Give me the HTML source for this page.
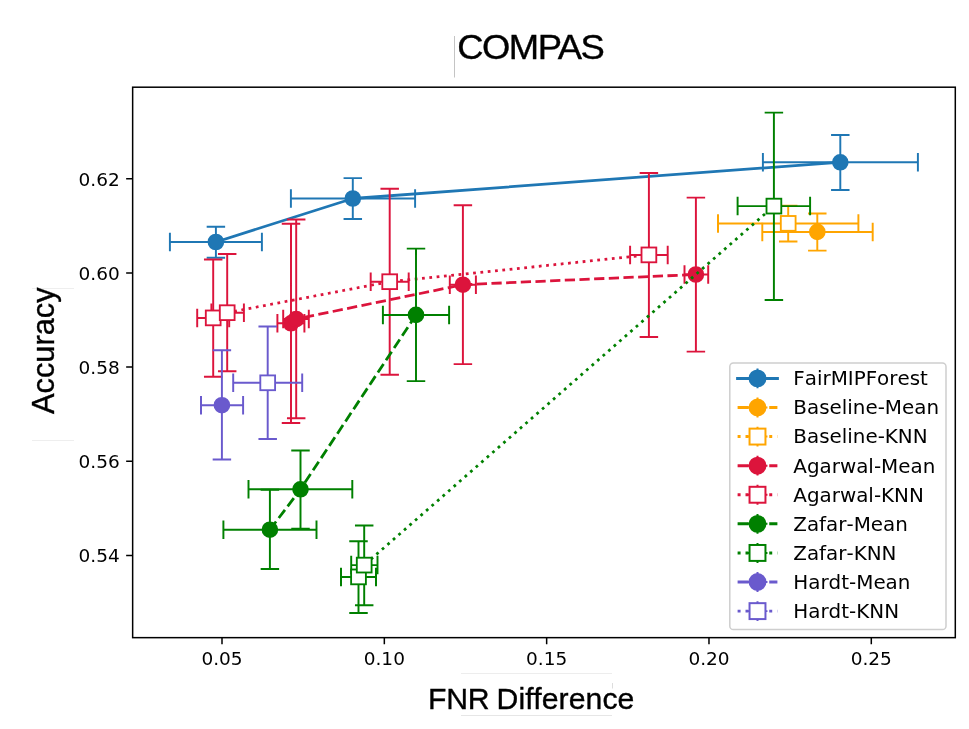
<!DOCTYPE html>
<html lang="en">
<head>
<meta charset="utf-8">
<title>COMPAS</title>
<style>
html,body{margin:0;padding:0;background:#fff;}
body{width:969px;height:729px;overflow:hidden;}
svg{display:block;}
</style>
</head>
<body>
<svg width="969" height="729" viewBox="0 0 969 729">
<rect width="969" height="729" fill="#fff"/>
<g stroke-width="1">
<line x1="454.5" y1="36" x2="454.5" y2="77.5" stroke="#c4c4c4"/>
<line x1="461" y1="673.5" x2="612" y2="673.5" stroke="#ededed"/>
<line x1="461" y1="715.5" x2="612" y2="715.5" stroke="#e6e6e6"/>
<line x1="32" y1="288.5" x2="74" y2="288.5" stroke="#eeeeee"/>
<line x1="612.5" y1="683" x2="612.5" y2="688.5" stroke="#dddddd"/>
<line x1="32" y1="440.5" x2="74" y2="440.5" stroke="#eeeeee"/>
</g>
<defs><clipPath id="ax"><rect x="132.65" y="87.2" width="822.65" height="550.45"/></clipPath></defs>
<g clip-path="url(#ax)" fill="none">
<g stroke="#1f77b4">
<path d="M169.9 242H261.9M215.9 226.8V257.7M290.9 198.5H415.1M352.8 178.1V219M762.9 162.3H917.9M840.3 134.9V190" stroke-width="1.95"/>
<path d="M169.9 232.76V251.24M261.9 232.76V251.24M206.67 226.8H225.13M206.67 257.7H225.13M290.9 189.26V207.74M415.1 189.26V207.74M343.56 178.1H362.04M343.56 219H362.04M762.9 153.06V171.54M917.9 153.06V171.54M831.06 134.9H849.53M831.06 190H849.53" stroke-width="1.95"/>
<path d="M215.9 242L352.8 198.5L840.3 162.3" stroke-width="2.77" stroke-linejoin="round" stroke-linecap="square"/>
<circle cx="215.9" cy="242" r="7.39" fill="#1f77b4" stroke-width="1.85"/>
<circle cx="352.8" cy="198.5" r="7.39" fill="#1f77b4" stroke-width="1.85"/>
<circle cx="840.3" cy="162.3" r="7.39" fill="#1f77b4" stroke-width="1.85"/>
</g>
<g stroke="#ffa500">
<path d="M762.3 231.9H872.7M817.3 213.5V250.6" stroke-width="1.95"/>
<path d="M762.3 222.67V241.13M872.7 222.67V241.13M808.06 213.5H826.53M808.06 250.6H826.53" stroke-width="1.95"/>
<circle cx="817.3" cy="231.9" r="7.39" fill="#ffa500" stroke-width="1.85"/>
</g>
<g stroke="#ffa500">
<path d="M718 223.4H858.4M788.2 205.6V241.5" stroke-width="1.95"/>
<path d="M718 214.17V232.63M858.4 214.17V232.63M778.97 205.6H797.44M778.97 241.5H797.44" stroke-width="1.95"/>
<rect x="780.81" y="216.01" width="14.78" height="14.78" fill="#fff" stroke-width="1.85"/>
</g>
<g stroke="#dc143c">
<path d="M277.4 323.3H304.4M291 223.7V422.9M283.2 319H308.8M296.2 219.5V418.3M449.8 284.7H475.9M462.9 205.3V364.1M684.5 274.5H708.2M695.9 197.6V351.6" stroke-width="1.95"/>
<path d="M277.4 314.06V332.54M304.4 314.06V332.54M281.76 223.7H300.24M281.76 422.9H300.24M283.2 309.76V328.24M308.8 309.76V328.24M286.96 219.5H305.44M286.96 418.3H305.44M449.8 275.46V293.94M475.9 275.46V293.94M453.66 205.3H472.13M453.66 364.1H472.13M684.5 265.26V283.74M708.2 265.26V283.74M686.66 197.6H705.13M686.66 351.6H705.13" stroke-width="1.95"/>
<path d="M291 323.3L296.2 319L462.9 284.7L695.9 274.5" stroke-width="2.77" stroke-linejoin="round" stroke-dasharray="10.25 4.43"/>
<circle cx="291" cy="323.3" r="7.39" fill="#dc143c" stroke-width="1.85"/>
<circle cx="296.2" cy="319" r="7.39" fill="#dc143c" stroke-width="1.85"/>
<circle cx="462.9" cy="284.7" r="7.39" fill="#dc143c" stroke-width="1.85"/>
<circle cx="695.9" cy="274.5" r="7.39" fill="#dc143c" stroke-width="1.85"/>
</g>
<g stroke="#dc143c">
<path d="M197.2 317.9H229.2M213.2 259.5V376.8M211.4 312.7H243.9M227.2 253.9V371.2M370.7 281.7H408.7M389.7 188.8V374.8M630.1 254.9H667.7M648.9 172.9V336.9" stroke-width="1.95"/>
<path d="M197.2 308.66V327.13M229.2 308.66V327.13M203.96 259.5H222.44M203.96 376.8H222.44M211.4 303.46V321.94M243.9 303.46V321.94M217.96 253.9H236.44M217.96 371.2H236.44M370.7 272.46V290.94M408.7 272.46V290.94M380.46 188.8H398.94M380.46 374.8H398.94M630.1 245.67V264.13M667.7 245.67V264.13M639.66 172.9H658.13M639.66 336.9H658.13" stroke-width="1.95"/>
<path d="M213.2 317.9L227.2 312.7L389.7 281.7L648.9 254.9" stroke-width="2.77" stroke-linejoin="round" stroke-dasharray="2.77 4.57"/>
<rect x="205.81" y="310.51" width="14.78" height="14.78" fill="#fff" stroke-width="1.85"/>
<rect x="219.81" y="305.31" width="14.78" height="14.78" fill="#fff" stroke-width="1.85"/>
<rect x="382.31" y="274.31" width="14.78" height="14.78" fill="#fff" stroke-width="1.85"/>
<rect x="641.51" y="247.51" width="14.78" height="14.78" fill="#fff" stroke-width="1.85"/>
</g>
<g stroke="#008000">
<path d="M223.4 529.7H316.5M269.9 489.8V569M248.5 489.3H352.3M300.5 450.4V528.6M382.9 314.9H449.1M416 248.6V381.1" stroke-width="1.95"/>
<path d="M223.4 520.47V538.94M316.5 520.47V538.94M260.66 489.8H279.13M260.66 569H279.13M248.5 480.06V498.54M352.3 480.06V498.54M291.26 450.4H309.74M291.26 528.6H309.74M382.9 305.66V324.13M449.1 305.66V324.13M406.76 248.6H425.24M406.76 381.1H425.24" stroke-width="1.95"/>
<path d="M269.9 529.7L300.5 489.3L416 314.9" stroke-width="2.77" stroke-linejoin="round" stroke-dasharray="10.25 4.43"/>
<circle cx="269.9" cy="529.7" r="7.39" fill="#008000" stroke-width="1.85"/>
<circle cx="300.5" cy="489.3" r="7.39" fill="#008000" stroke-width="1.85"/>
<circle cx="416" cy="314.9" r="7.39" fill="#008000" stroke-width="1.85"/>
</g>
<g stroke="#008000">
<path d="M341 576.9H376M358.5 541.2V612.9M351.2 565.1H377.5M364.2 525.5V605.2M737.6 206.1H810.1M773.9 112.6V300" stroke-width="1.95"/>
<path d="M341 567.66V586.13M376 567.66V586.13M349.26 541.2H367.74M349.26 612.9H367.74M351.2 555.87V574.34M377.5 555.87V574.34M354.96 525.5H373.44M354.96 605.2H373.44M737.6 196.87V215.33M810.1 196.87V215.33M764.66 112.6H783.13M764.66 300H783.13" stroke-width="1.95"/>
<path d="M358.5 576.9L364.2 565.1L773.9 206.1" stroke-width="2.77" stroke-linejoin="round" stroke-dasharray="2.77 4.57"/>
<rect x="351.11" y="569.51" width="14.78" height="14.78" fill="#fff" stroke-width="1.85"/>
<rect x="356.81" y="557.71" width="14.78" height="14.78" fill="#fff" stroke-width="1.85"/>
<rect x="766.51" y="198.71" width="14.78" height="14.78" fill="#fff" stroke-width="1.85"/>
</g>
<g stroke="#6a5acd">
<path d="M201 405.2H243.1M221.9 350.2V459.5" stroke-width="1.95"/>
<path d="M201 395.96V414.44M243.1 395.96V414.44M212.67 350.2H231.13M212.67 459.5H231.13" stroke-width="1.95"/>
<circle cx="221.9" cy="405.2" r="7.39" fill="#6a5acd" stroke-width="1.85"/>
</g>
<g stroke="#6a5acd">
<path d="M233.2 382.8H302.2M267.7 326.4V438.9" stroke-width="1.95"/>
<path d="M233.2 373.56V392.04M302.2 373.56V392.04M258.46 326.4H276.94M258.46 438.9H276.94" stroke-width="1.95"/>
<rect x="260.31" y="375.41" width="14.78" height="14.78" fill="#fff" stroke-width="1.85"/>
</g>
</g>
<rect x="729.8" y="363.1" width="216.2" height="266.4" rx="3.6" ry="3.6" fill="#fff" fill-opacity="0.8" stroke="#cecece" stroke-width="1.5"/>
<g fill="none">
<g stroke="#1f77b4">
<path d="M737.6 378.4H777.4" stroke-width="2.98" stroke-linecap="square"/>
<path d="M747.55 378.4H767.45M757.5 368.45V388.35" stroke-width="1.99"/>
<circle cx="757.5" cy="378.4" r="7.96" fill="#1f77b4" stroke-width="1.99"/>
</g>
<g stroke="#ffa500">
<path d="M737.6 407.49H777.4" stroke-width="2.98" stroke-dasharray="11.04 4.78"/>
<path d="M747.55 407.49H767.45M757.5 397.54V417.44" stroke-width="1.99"/>
<circle cx="757.5" cy="407.49" r="7.96" fill="#ffa500" stroke-width="1.99"/>
</g>
<g stroke="#ffa500">
<path d="M737.6 436.58H777.4" stroke-width="2.98" stroke-dasharray="2.98 4.93"/>
<path d="M747.55 436.58H767.45M757.5 426.63V446.53" stroke-width="1.99"/>
<rect x="749.54" y="428.62" width="15.92" height="15.92" fill="#fff" stroke-width="1.99"/>
</g>
<g stroke="#dc143c">
<path d="M737.6 465.67H777.4" stroke-width="2.98" stroke-dasharray="11.04 4.78"/>
<path d="M747.55 465.67H767.45M757.5 455.72V475.62" stroke-width="1.99"/>
<circle cx="757.5" cy="465.67" r="7.96" fill="#dc143c" stroke-width="1.99"/>
</g>
<g stroke="#dc143c">
<path d="M737.6 494.76H777.4" stroke-width="2.98" stroke-dasharray="2.98 4.93"/>
<path d="M747.55 494.76H767.45M757.5 484.81V504.71" stroke-width="1.99"/>
<rect x="749.54" y="486.8" width="15.92" height="15.92" fill="#fff" stroke-width="1.99"/>
</g>
<g stroke="#008000">
<path d="M737.6 523.85H777.4" stroke-width="2.98" stroke-dasharray="11.04 4.78"/>
<path d="M747.55 523.85H767.45M757.5 513.9V533.8" stroke-width="1.99"/>
<circle cx="757.5" cy="523.85" r="7.96" fill="#008000" stroke-width="1.99"/>
</g>
<g stroke="#008000">
<path d="M737.6 552.94H777.4" stroke-width="2.98" stroke-dasharray="2.98 4.93"/>
<path d="M747.55 552.94H767.45M757.5 542.99V562.89" stroke-width="1.99"/>
<rect x="749.54" y="544.98" width="15.92" height="15.92" fill="#fff" stroke-width="1.99"/>
</g>
<g stroke="#6a5acd">
<path d="M737.6 582.03H777.4" stroke-width="2.98" stroke-dasharray="11.04 4.78"/>
<path d="M747.55 582.03H767.45M757.5 572.08V591.98" stroke-width="1.99"/>
<circle cx="757.5" cy="582.03" r="7.96" fill="#6a5acd" stroke-width="1.99"/>
</g>
<g stroke="#6a5acd">
<path d="M737.6 611.12H777.4" stroke-width="2.98" stroke-dasharray="2.98 4.93"/>
<path d="M747.55 611.12H767.45M757.5 601.17V621.07" stroke-width="1.99"/>
<rect x="749.54" y="603.16" width="15.92" height="15.92" fill="#fff" stroke-width="1.99"/>
</g>
</g>
<g font-family="'DejaVu Sans', 'Liberation Sans', sans-serif" font-size="19.9" fill="#000" style="font-kerning:none">
<text x="793.3" y="385.3">FairMIPForest</text>
<text x="793.3" y="414.39">Baseline-Mean</text>
<text x="793.3" y="443.48">Baseline-KNN</text>
<text x="793.3" y="472.57">Agarwal-Mean</text>
<text x="793.3" y="501.66">Agarwal-KNN</text>
<text x="793.3" y="530.75">Zafar-Mean</text>
<text x="793.3" y="559.84">Zafar-KNN</text>
<text x="793.3" y="588.93">Hardt-Mean</text>
<text x="793.3" y="618.02">Hardt-KNN</text>
</g>
<rect x="132.65" y="87.2" width="822.65" height="550.45" fill="none" stroke="#000" stroke-width="1.5"/>
<path d="M222 637.65v6.5M384.33 637.65v6.5M546.65 637.65v6.5M708.98 637.65v6.5M871.3 637.65v6.5M132.65 178.7h-6.5M132.65 272.88h-6.5M132.65 367.06h-6.5M132.65 461.24h-6.5M132.65 555.42h-6.5" stroke="#000" stroke-width="1.5" fill="none"/>
<g font-family="'DejaVu Sans', 'Liberation Sans', sans-serif" font-size="18.5" fill="#000">
<g text-anchor="middle">
<text x="222" y="664.9">0.05</text>
<text x="384.33" y="664.9">0.10</text>
<text x="546.65" y="664.9">0.15</text>
<text x="708.98" y="664.9">0.20</text>
<text x="871.3" y="664.9">0.25</text>
</g><g text-anchor="end">
<text x="119.7" y="185.6">0.62</text>
<text x="119.7" y="279.78">0.60</text>
<text x="119.7" y="373.96">0.58</text>
<text x="119.7" y="468.14">0.56</text>
<text x="119.7" y="562.32">0.54</text>
</g></g>
<g font-family="'Liberation Sans', Arial, Helvetica, sans-serif" fill="#000" stroke="#000" stroke-width="0.35">
<text transform="translate(457.2 59.1) scale(1.06 1)" font-size="34.4" letter-spacing="-1.45">COMPAS</text>
<text y="709.3" font-size="30.2"><tspan x="428.0" letter-spacing="-0.3">FNR</tspan> <tspan x="496.6" letter-spacing="0.08">Difference</tspan></text>
<text transform="translate(53.8 414) rotate(-90)" font-size="30.8">Accuracy</text>
</g>
</svg>
</body>
</html>
